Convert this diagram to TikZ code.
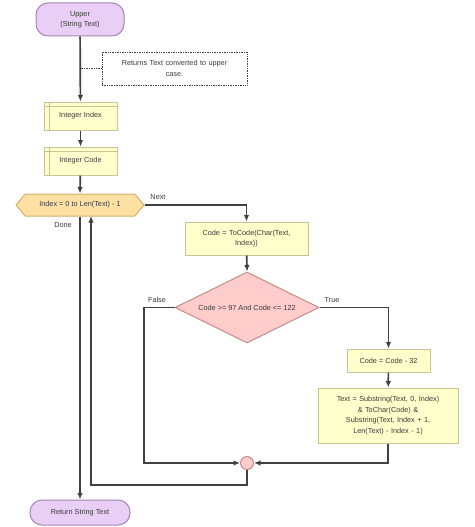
\documentclass[tikz,border=0pt]{standalone}
\usepackage{fontspec}
\setmainfont{Liberation Sans}
\usetikzlibrary{arrows.meta,shapes.geometric,shapes.symbols}
\definecolor{lineC}{HTML}{404040}
\definecolor{txtC}{HTML}{3A3A3A}
\definecolor{termF}{HTML}{E9CFF6}
\definecolor{termD}{HTML}{A585B5}
\definecolor{boxF}{HTML}{FFFFCC}
\definecolor{boxD}{HTML}{C9C39A}
\definecolor{hexF}{HTML}{FFE0A3}
\definecolor{hexD}{HTML}{D2AE6A}
\definecolor{diaF}{HTML}{FFCCCC}
\definecolor{diaD}{HTML}{C58A8A}
\tikzset{
  x=1pt,y=-1pt,
  every node/.style={font=\fontsize{7.3}{10.5}\selectfont, text=txtC, inner sep=0pt, align=center},
  term/.style={draw=termD, fill=termF, line width=1pt, rounded corners=12pt},
  procbox/.style={draw=boxD, fill=boxF, line width=1pt},
  storebox/.style={procbox},
  hexnode/.style={signal, signal to=west and east, signal pointer angle=100, draw=hexD, fill=hexF, line width=1pt},
  decbox/.style={diamond, aspect=2, draw=diaD, fill=diaF, line width=1pt},
  notebox/.style={draw=lineC, densely dotted, line width=0.7pt, fill=white},
  conn/.style={draw=lineC, line width=1.7pt, -{Latex[length=6.5pt,width=5.5pt]}},
  lbl/.style={text=txtC}
}
\begin{document}
\begin{tikzpicture}
\fill[white] (0,0) rectangle (474,527);
\useasboundingbox (0,0) rectangle (474,527);

\node[term, minimum width=88pt, minimum height=33pt] (upper) at (80,19.5) {Upper\\(String Text)};
\node[notebox, minimum width=145pt, minimum height=33pt, text width=135pt] (note) at (174.5,68.5) {Returns Text converted to upper\\case.};
\node[storebox, minimum width=73pt, minimum height=28pt] (idx) at (80.5,116) {Integer Index};
\node[storebox, minimum width=73pt, minimum height=28pt] (code0) at (80.5,161) {Integer Code};
\foreach \n in {idx,code0}{
  \draw[boxD, line width=1pt] ([xshift=6pt]\n.north west) -- ([xshift=6pt]\n.south west);
  \draw[boxD, line width=1pt] ([yshift=-5pt]\n.north west) -- ([yshift=-5pt]\n.north east);
}
\node[hexnode, minimum width=128pt, minimum height=22pt] (loop) at (80,205) {Index = 0 to Len(Text) - 1};
\node[procbox, minimum width=123pt, minimum height=33pt, text width=115pt] (codebox) at (246.5,238.5) {Code = ToCode(Char(Text,\\Index))};
\node[decbox, minimum width=144pt, minimum height=71pt] (dia) at (247,307.5) {Code >= 97 And Code <= 122};
\node[procbox, minimum width=83pt, minimum height=23pt] (c32) at (388.5,360.5) {Code = Code - 32};
\node[procbox, minimum width=140pt, minimum height=55pt, text width=132pt] (txt) at (388,415.5) {Text = Substring(Text, 0, Index)\\\& ToChar(Code) \&\\Substring(Text, Index + 1,\\Len(Text) - Index - 1)};
\node[circle, draw=diaD, fill=diaF, line width=1pt, minimum size=13pt] (merge) at (247,463) {};
\node[term, minimum width=100pt, minimum height=25pt] (ret) at (80,512.5) {Return String Text};

\coordinate (notej) at (80,68.5);
\coordinate (fA) at (144,307.5);
\coordinate (fB) at (144,463);
\coordinate (bA) at (247,485);
\coordinate (bB) at (91,485);
\coordinate (bC) at (91,216);

\draw[conn] (upper) -- (idx);
\draw[lineC, densely dotted, line width=0.7pt] (note.west) -- (notej);
\draw[conn] (idx) -- (code0);
\draw[conn] (code0) -- (loop.north);
\draw[conn] (loop.east) -| (codebox.north);
\draw[conn] (codebox) -- (dia.north);
\draw[conn] (dia.west) -- (fA) -- (fB) -- (merge.west);
\draw[conn] (dia.east) -| (c32.north);
\draw[conn] (c32) -- (txt);
\draw[conn] (txt.south) |- (merge.east);
\draw[conn] (merge.south) -- (bA) -- (bB) -- (bC);
\draw[conn] (loop.south) -- (ret.north);

\node[lbl] (nextl) at (158,197) {Next};
\node[lbl] (donel) at (63,225) {Done};
\node[lbl] (falsel) at (157,300) {False};
\node[lbl] (truel) at (332,300) {True};
\end{tikzpicture}
\end{document}
